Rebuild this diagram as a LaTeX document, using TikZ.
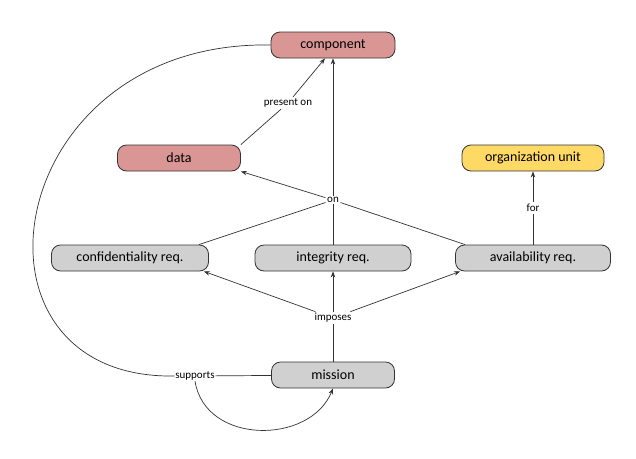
\documentclass[tikz,border=0pt]{standalone}
\usepackage{fontspec}
\setmainfont{Carlito}
\usetikzlibrary{arrows.meta}
\definecolor{red1}{HTML}{D99694}
\definecolor{yel}{HTML}{FFD966}
\definecolor{gry}{HTML}{D0D0D0}
\begin{document}
\begin{tikzpicture}[x=1pt,y=-1pt,
  box/.style={draw=black!80,line width=0.8pt,rounded corners=9pt,minimum height=26pt,inner sep=0pt,font=\fontsize{14}{16}\selectfont},
  lbl/.style={fill=white,inner sep=1.5pt,font=\fontsize{11}{13}\selectfont},
  arr/.style={-{Stealth[length=6pt,width=4.5pt]},black!80,line width=0.7pt},
  ln/.style={black!80,line width=0.7pt}]
\useasboundingbox (0,0) rectangle (636,458);
\node[box,fill=red1,minimum width=124pt] (comp) at (333,45) {component};
\node[box,fill=red1,minimum width=123pt] (data) at (179,158) {data};
\node[box,fill=yel,minimum width=142pt] (org) at (533,158) {organization unit};
\node[box,fill=gry,minimum width=157pt] (conf) at (130,258) {confidentiality req.};
\node[box,fill=gry,minimum width=156pt] (integ) at (333,258) {integrity req.};
\node[box,fill=gry,minimum width=155pt] (avail) at (533,258) {availability req.};
\node[box,fill=gry,minimum width=123pt] (miss) at (333,375) {mission};
\node[lbl] (on) at (333,200) {on};
\node[lbl] (pres) at (288,103) {present on};
\node[lbl] (for) at (533,208) {for};
\node[lbl] (imp) at (333,318) {imposes};
\node[lbl,inner sep=0.5pt] (sup) at (195,376) {supports};
% on
\draw[ln] (conf.north east) ++(-10,0) coordinate (c1);
\draw[ln] (c1) -- (on);
\draw[ln] (avail.north west) ++(10,0) coordinate (a1);
\draw[ln] (a1) -- (on);
\draw[arr] (on) -- (data.south east);
\draw[ln] (integ) -- (on);
\draw[arr] (on) -- (comp.south);
% present on
\draw[ln] (data.north east) -- (pres);
\draw[arr] (pres) -- ([xshift=-8pt]comp.south);
% for
\draw[ln] (avail.north) -- (for);
\draw[arr] (for) -- (org.south);
% imposes
\draw[ln] (miss) -- (imp);
\draw[arr] (imp) -- ([xshift=-5pt]conf.south east);
\draw[arr] (imp) -- (integ.south);
\draw[arr] (imp) -- ([xshift=5pt]avail.south west);
% supports
\draw[ln] (miss) -- (sup);
\draw[ln] (sup.west) .. controls (-50,380) and (0,40) .. (comp.west);
\draw[arr] (sup.south) .. controls (205,445) and (310,445) .. (miss.south);
\end{tikzpicture}
\end{document}
